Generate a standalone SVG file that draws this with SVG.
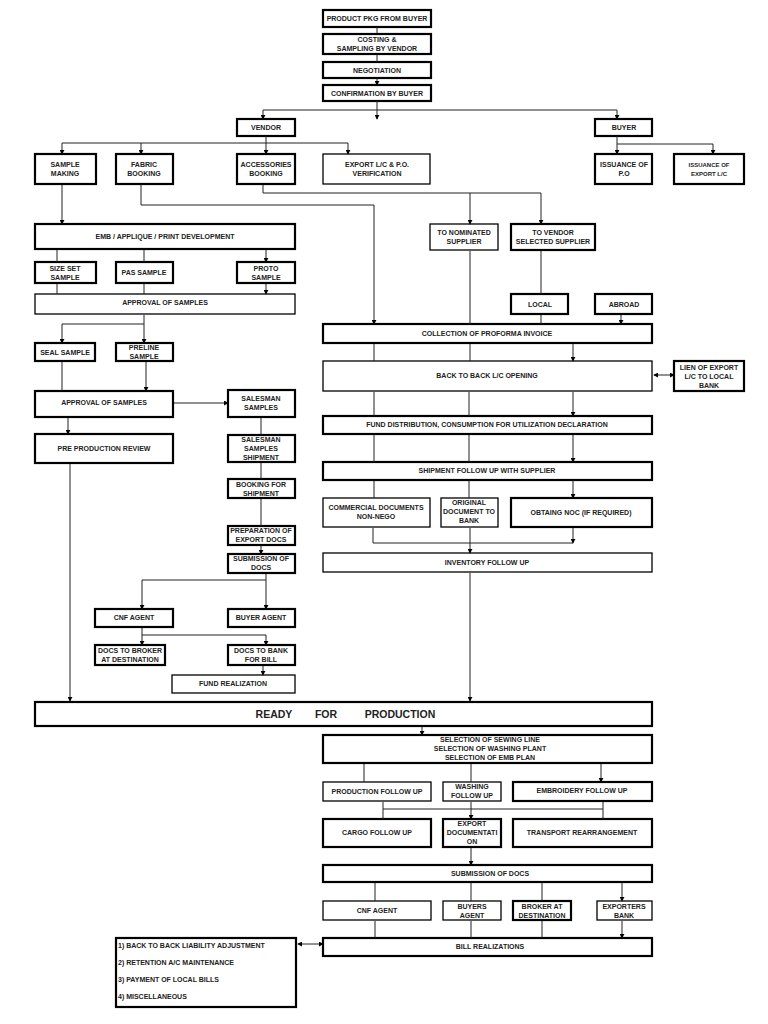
<svg xmlns="http://www.w3.org/2000/svg" width="768" height="1024" viewBox="0 0 768 1024">
<style>
rect{fill:#fff;stroke:#000;stroke-width:1.3}
rect.k{stroke-width:2.2}
text{font-family:"Liberation Sans",Arial,sans-serif;font-weight:bold;font-size:7px;text-anchor:middle;fill:#222}
.c path{fill:none;stroke:#222;stroke-width:1}
</style>
<defs>
<marker id="a" viewBox="0 0 6 6" refX="5" refY="3" markerWidth="5" markerHeight="5" orient="auto-start-reverse"><path d="M0,0L6,3L0,6z" fill="#000"/></marker>
</defs>
<rect width="768" height="1024" style="fill:#fff;stroke:none"/>
<g id="n1"><rect class="k" x="323" y="10" width="108" height="17"/><text x="377" y="21">PRODUCT PKG FROM BUYER</text></g>
<g id="n2"><rect class="k" x="323" y="34" width="108" height="20"/><text x="377" y="42">COSTING &amp;</text><text x="377" y="51">SAMPLING BY VENDOR</text></g>
<g id="n3"><rect class="k" x="323" y="62" width="108" height="16"/><text x="377" y="73">NEGOTIATION</text></g>
<g id="n4"><rect class="k" x="323" y="85" width="108" height="16"/><text x="377" y="96">CONFIRMATION BY BUYER</text></g>
<g id="vendor"><rect class="k" x="237" y="119" width="58" height="17"/><text x="266" y="130">VENDOR</text></g>
<g id="buyer"><rect class="k" x="595" y="119" width="57" height="17"/><text x="624" y="130">BUYER</text></g>
<g id="sm"><rect class="k" x="35" y="154" width="61" height="30"/><text x="65" y="167">SAMPLE</text><text x="65" y="176">MAKING</text></g>
<g id="fb"><rect class="k" x="116" y="154" width="57" height="30"/><text x="144" y="167">FABRIC</text><text x="144" y="176">BOOKING</text></g>
<g id="ab"><rect class="k" x="237" y="154" width="58" height="30"/><text x="266" y="167">ACCESSORIES</text><text x="266" y="176">BOOKING</text></g>
<g id="el"><rect x="323" y="154" width="107" height="30"/><text x="377" y="167">EXPORT L/C &amp; P.O.</text><text x="377" y="176">VERIFICATION</text></g>
<g id="ip"><rect class="k" x="595" y="154" width="57" height="30"/><text x="624" y="167">ISSUANCE OF</text><text x="624" y="176">P.O</text></g>
<g id="ie"><rect class="k" x="674" y="154" width="70" height="30"/><text x="709" y="167" style="font-size:6px">ISSUANCE OF</text><text x="709" y="176" style="font-size:6px">EXPORT L/C</text></g>
<g id="emb"><rect class="k" x="35" y="224" width="260" height="25"/><text x="165" y="239">EMB / APPLIQUE / PRINT DEVELOPMENT</text></g>
<g id="ss"><rect class="k" x="35" y="262" width="61" height="21"/><text x="65" y="271">SIZE SET</text><text x="65" y="280">SAMPLE</text></g>
<g id="pas"><rect class="k" x="116" y="262" width="57" height="21"/><text x="144" y="275">PAS SAMPLE</text></g>
<g id="proto"><rect class="k" x="237" y="262" width="58" height="21"/><text x="266" y="271">PROTO</text><text x="266" y="280">SAMPLE</text></g>
<g id="aps"><rect x="35" y="294" width="260" height="20"/><text x="165" y="305">APPROVAL OF SAMPLES</text></g>
<g id="seal"><rect class="k" x="35" y="343" width="60" height="18"/><text x="65" y="355">SEAL SAMPLE</text></g>
<g id="pre"><rect class="k" x="116" y="343" width="57" height="18"/><text x="144" y="350">PRELINE</text><text x="144" y="359">SAMPLE</text></g>
<g id="aps2"><rect class="k" x="35" y="391" width="138" height="26"/><text x="104" y="405">APPROVAL OF SAMPLES</text></g>
<g id="sal"><rect class="k" x="228" y="390" width="67" height="27"/><text x="261" y="401">SALESMAN</text><text x="261" y="410">SAMPLES</text></g>
<g id="ppr"><rect class="k" x="35" y="434" width="138" height="29"/><text x="104" y="451">PRE PRODUCTION REVIEW</text></g>
<g id="sss"><rect class="k" x="228" y="435" width="67" height="27"/><text x="261" y="442">SALESMAN</text><text x="261" y="451">SAMPLES</text><text x="261" y="460">SHIPMENT</text></g>
<g id="bfs"><rect class="k" x="228" y="479" width="67" height="19"/><text x="261" y="487">BOOKING FOR</text><text x="261" y="496">SHIPMENT</text></g>
<g id="ped"><rect class="k" x="228" y="526" width="67" height="19"/><text x="261" y="533">PREPARATION OF</text><text x="261" y="542">EXPORT DOCS</text></g>
<g id="sod"><rect class="k" x="228" y="554" width="67" height="19"/><text x="261" y="561">SUBMISSION OF</text><text x="261" y="570">DOCS</text></g>
<g id="cnf1"><rect class="k" x="95" y="609" width="78" height="18"/><text x="134" y="620">CNF AGENT</text></g>
<g id="ba"><rect class="k" x="228" y="609" width="67" height="18"/><text x="261" y="620">BUYER AGENT</text></g>
<g id="dtb"><rect class="k" x="95" y="645" width="70" height="20"/><text x="130" y="653">DOCS TO BROKER</text><text x="130" y="662">AT DESTINATION</text></g>
<g id="dbk"><rect class="k" x="228" y="645" width="67" height="20"/><text x="261" y="653">DOCS TO BANK</text><text x="261" y="662">FOR BILL</text></g>
<g id="fr"><rect x="172" y="675" width="123" height="18"/><text x="233" y="686">FUND REALIZATION</text></g>
<g id="nom"><rect x="430" y="224" width="68" height="26"/><text x="464" y="235">TO NOMINATED</text><text x="464" y="244">SUPPLIER</text></g>
<g id="vss"><rect class="k" x="511" y="224" width="84" height="26"/><text x="553" y="235">TO VENDOR</text><text x="553" y="244">SELECTED SUPPLIER</text></g>
<g id="local"><rect class="k" x="511" y="294" width="57" height="20"/><text x="540" y="307">LOCAL</text></g>
<g id="abroad"><rect class="k" x="595" y="294" width="57" height="20"/><text x="624" y="307">ABROAD</text></g>
<g id="cpi"><rect class="k" x="323" y="324" width="329" height="19"/><text x="487" y="336">COLLECTION OF PROFORMA INVOICE</text></g>
<g id="b2b"><rect x="323" y="361" width="329" height="30"/><text x="487" y="378">BACK TO BACK L/C OPENING</text></g>
<g id="lien"><rect class="k" x="674" y="361" width="70" height="30"/><text x="709" y="370">LIEN OF EXPORT</text><text x="709" y="379">L/C TO LOCAL</text><text x="709" y="388">BANK</text></g>
<g id="fd"><rect class="k" x="323" y="416" width="329" height="18"/><text x="487" y="427">FUND DISTRIBUTION, CONSUMPTION FOR UTILIZATION DECLARATION</text></g>
<g id="sfu"><rect class="k" x="323" y="462" width="329" height="18"/><text x="487" y="473">SHIPMENT FOLLOW UP WITH SUPPLIER</text></g>
<g id="cd"><rect x="323" y="498" width="107" height="29"/><text x="376" y="510">COMMERCIAL DOCUMENTS</text><text x="376" y="519">NON-NEGO</text></g>
<g id="od"><rect x="441" y="498" width="57" height="29"/><text x="469" y="505">ORIGINAL</text><text x="469" y="514">DOCUMENT TO</text><text x="469" y="523">BANK</text></g>
<g id="noc"><rect class="k" x="511" y="498" width="141" height="29"/><text x="581" y="515">OBTAING NOC (IF REQUIRED)</text></g>
<g id="inv"><rect x="323" y="553" width="329" height="19"/><text x="487" y="565">INVENTORY FOLLOW UP</text></g>
<g id="ready"><rect class="k" x="35" y="702" width="617" height="24"/><text x="274" y="718" style="font-size:10.5px">READY</text><text x="326" y="718" style="font-size:10.5px">FOR</text><text x="400" y="718" style="font-size:10.5px">PRODUCTION</text></g>
<g id="sel"><rect class="k" x="323" y="735" width="329" height="28"/><text x="490" y="742">SELECTION OF SEWING LINE</text><text x="490" y="751">SELECTION OF WASHING PLANT</text><text x="490" y="760">SELECTION OF EMB PLAN</text></g>
<g id="pfu"><rect x="323" y="782" width="108" height="19"/><text x="377" y="794">PRODUCTION FOLLOW UP</text></g>
<g id="wfu"><rect x="443" y="782" width="58" height="19"/><text x="472" y="789">WASHING</text><text x="472" y="798">FOLLOW UP</text></g>
<g id="efu"><rect class="k" x="513" y="782" width="139" height="19"/><text x="582" y="793">EMBROIDERY FOLLOW UP</text></g>
<g id="cfu"><rect class="k" x="323" y="819" width="108" height="28"/><text x="377" y="835">CARGO FOLLOW UP</text></g>
<g id="exd"><rect class="k" x="443" y="819" width="58" height="28"/><text x="472" y="826">EXPORT</text><text x="472" y="835">DOCUMENTATI</text><text x="472" y="844">ON</text></g>
<g id="tr"><rect class="k" x="513" y="819" width="139" height="28"/><text x="582" y="835">TRANSPORT REARRANGEMENT</text></g>
<g id="sub"><rect class="k" x="323" y="865" width="329" height="17"/><text x="490" y="876">SUBMISSION OF DOCS</text></g>
<g id="cnf2"><rect x="323" y="901" width="108" height="19"/><text x="377" y="913">CNF AGENT</text></g>
<g id="bag"><rect x="443" y="901" width="58" height="19"/><text x="472" y="909">BUYERS</text><text x="472" y="918">AGENT</text></g>
<g id="brk"><rect class="k" x="513" y="901" width="58" height="19"/><text x="542" y="909">BROKER AT</text><text x="542" y="918">DESTINATION</text></g>
<g id="exb"><rect x="597" y="901" width="55" height="19"/><text x="624" y="909">EXPORTERS</text><text x="624" y="918">BANK</text></g>
<g id="bill"><rect class="k" x="323" y="938" width="329" height="18"/><text x="490" y="949">BILL REALIZATIONS</text></g>
<g id="list"><rect class="k" x="116" y="938" width="180" height="69"/>
<text x="118" y="948" style="text-anchor:start">1) BACK TO BACK LIABILITY ADJUSTMENT</text>
<text x="118" y="965" style="text-anchor:start">2) RETENTION A/C MAINTENANCE</text>
<text x="118" y="982" style="text-anchor:start">3) PAYMENT OF LOCAL BILLS</text>
<text x="118" y="999" style="text-anchor:start">4) MISCELLANEOUS</text></g>
<g class="c">
<path d="M377 27V34M377 54V62M377 78V85" marker-end="url(#a)"/>
<path d="M377 101V119" marker-end="url(#a)"/>
<path d="M263 110H617V119" marker-end="url(#a)"/>
<path d="M263 110V119" marker-end="url(#a)"/>
<path d="M266 136V154" marker-end="url(#a)"/>
<path d="M62 143H348V154" marker-end="url(#a)"/>
<path d="M62 143V154" marker-end="url(#a)"/>
<path d="M141 143V154" marker-end="url(#a)"/>
<path d="M617 136V154" marker-end="url(#a)"/>
<path d="M617 144H713V154" marker-end="url(#a)"/>
<path d="M263 185V193H541V224" marker-end="url(#a)"/>
<path d="M470 193V224" marker-end="url(#a)"/>
<path d="M141 185V205H374V324" marker-end="url(#a)"/>
<path d="M62 185V224" marker-end="url(#a)"/>
<path d="M57 250V262M144 250V262M266 250V262" marker-end="url(#a)"/>
<path d="M57 284V294M144 284V294M266 284V294" marker-end="url(#a)"/>
<path d="M144 315V343" marker-end="url(#a)"/>
<path d="M144 324H62V343" marker-end="url(#a)"/>
<path d="M62 362V391M146 362V391" marker-end="url(#a)"/>
<path d="M174 403H228" marker-end="url(#a)"/>
<path d="M68 418V434" marker-end="url(#a)"/>
<path d="M261 418V435M261 463V479M261 499V526M261 546V554" marker-end="url(#a)"/>
<path d="M266 574V609" marker-end="url(#a)"/>
<path d="M266 580H142V609" marker-end="url(#a)"/>
<path d="M142 628V645" marker-end="url(#a)"/>
<path d="M142 635H266V645" marker-end="url(#a)"/>
<path d="M263 666V675" marker-end="url(#a)"/>
<path d="M70 464V701" marker-end="url(#a)"/>
<path d="M470 251V324M541 251V294M541 315V324M621 315V324" marker-end="url(#a)"/>
<path d="M374 344V361M470 344V361M573 344V361" marker-end="url(#a)"/>
<path d="M654 375H674" marker-start="url(#a)" marker-end="url(#a)"/>
<path d="M374 392V416M469 392V416M573 392V416" marker-end="url(#a)"/>
<path d="M374 435V462M469 435V462M573 435V462" marker-end="url(#a)"/>
<path d="M374 481V498M469 481V498M573 481V498" marker-end="url(#a)"/>
<path d="M373 528V543M573 528V543" marker-end="url(#a)"/>
<path d="M373 543H573"/>
<path d="M470 528V553" marker-end="url(#a)"/>
<path d="M470 573V701" marker-end="url(#a)"/>
<path d="M422 727V735" marker-end="url(#a)"/>
<path d="M364 764V782M471 764V782M601 764V782" marker-end="url(#a)"/>
<path d="M383 802V819M603 802V819M471 802V819" marker-end="url(#a)"/>
<path d="M383 809H603"/>
<path d="M471 848V865" marker-end="url(#a)"/>
<path d="M375 883V901M471 883V901M542 883V901M622 883V901" marker-end="url(#a)"/>
<path d="M375 921V938M471 921V938M542 921V938M622 921V938" marker-end="url(#a)"/>
<path d="M298 944H323" marker-start="url(#a)" marker-end="url(#a)"/>
</g>
</svg>
